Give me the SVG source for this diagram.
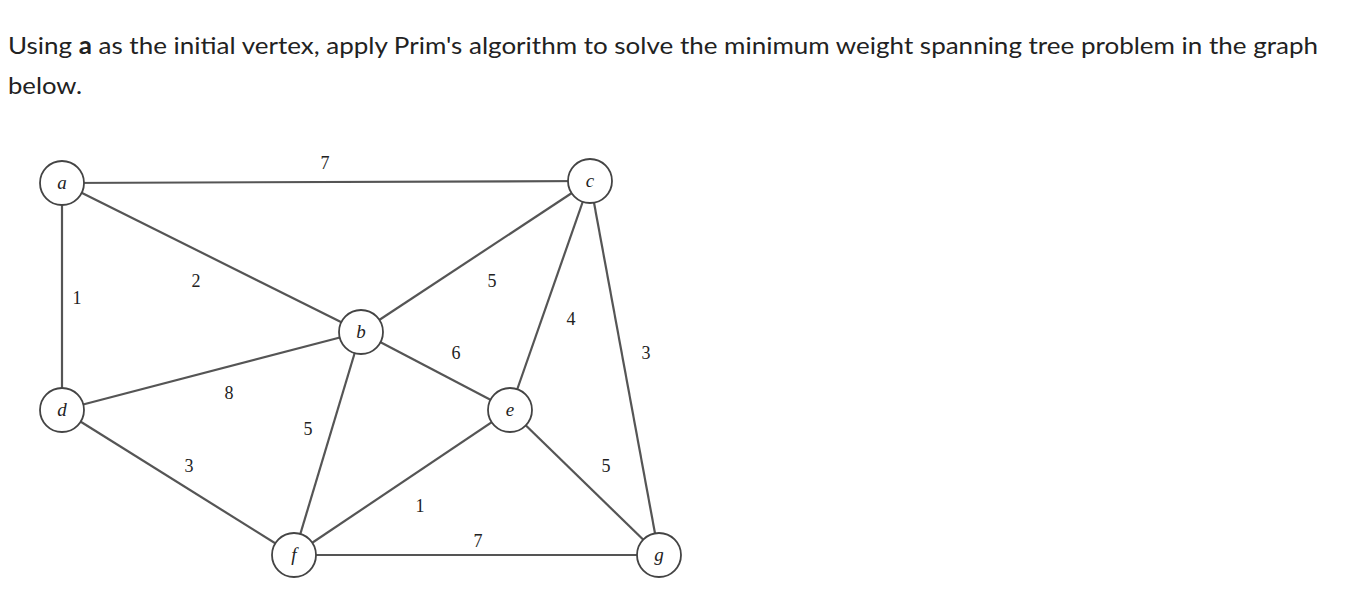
<svg xmlns="http://www.w3.org/2000/svg" width="1364" height="612" viewBox="0 0 1364 612">
<style>
.t{font-family:Lato,"Liberation Sans",sans-serif;font-size:24px;fill:#222}
.e{stroke:#555;stroke-width:2.2;fill:none}
.n circle{fill:#fff;stroke:#444;stroke-width:1.8}
.n text{font-family:"Liberation Serif",serif;font-style:italic;font-size:19px;text-anchor:middle;fill:#222}
.w{font-family:"Liberation Serif",serif;font-size:18px;text-anchor:middle;fill:#222}
</style>
<rect width="1364" height="612" fill="#fff"/>
<text class="t" x="8" y="54" textLength="1310" lengthAdjust="spacingAndGlyphs">Using <tspan font-weight="bold">a</tspan> as the initial vertex, apply Prim's algorithm to solve the minimum weight spanning tree problem in the graph</text>
<text class="t" x="8" y="94" textLength="74" lengthAdjust="spacingAndGlyphs">below.</text>
<g id="edges" class="e">
<line x1="62" y1="183" x2="590" y2="181"/>
<line x1="62" y1="183" x2="62" y2="410"/>
<line x1="62" y1="183" x2="361" y2="332"/>
<line x1="590" y1="181" x2="361" y2="332"/>
<line x1="590" y1="181" x2="510" y2="410"/>
<line x1="590" y1="181" x2="659" y2="555"/>
<line x1="62" y1="410" x2="361" y2="332"/>
<line x1="361" y1="332" x2="510" y2="410"/>
<line x1="361" y1="332" x2="294" y2="555"/>
<line x1="62" y1="410" x2="294" y2="555"/>
<line x1="510" y1="410" x2="294" y2="555"/>
<line x1="510" y1="410" x2="659" y2="555"/>
<line x1="294" y1="555" x2="659" y2="555"/>
</g>
<g id="weights">
<text class="w" x="325" y="169">7</text>
<text class="w" x="77" y="304">1</text>
<text class="w" x="196" y="287">2</text>
<text class="w" x="492" y="287">5</text>
<text class="w" x="571" y="325">4</text>
<text class="w" x="646" y="359">3</text>
<text class="w" x="229" y="399">8</text>
<text class="w" x="456" y="359">6</text>
<text class="w" x="308" y="435">5</text>
<text class="w" x="189" y="472">3</text>
<text class="w" x="420" y="512">1</text>
<text class="w" x="606" y="472">5</text>
<text class="w" x="478" y="547">7</text>
</g>
<g id="a" class="n"><circle cx="62" cy="183" r="22"/><text x="62" y="189">a</text></g>
<g id="c" class="n"><circle cx="590" cy="181" r="22"/><text x="590" y="187">c</text></g>
<g id="b" class="n"><circle cx="361" cy="332" r="22"/><text x="361" y="338">b</text></g>
<g id="d" class="n"><circle cx="62" cy="410" r="22"/><text x="62" y="416">d</text></g>
<g id="e" class="n"><circle cx="510" cy="410" r="22"/><text x="510" y="416">e</text></g>
<g id="f" class="n"><circle cx="294" cy="555" r="22"/><text x="294" y="561">f</text></g>
<g id="g" class="n"><circle cx="659" cy="555" r="22"/><text x="659" y="561">g</text></g>
</svg>
